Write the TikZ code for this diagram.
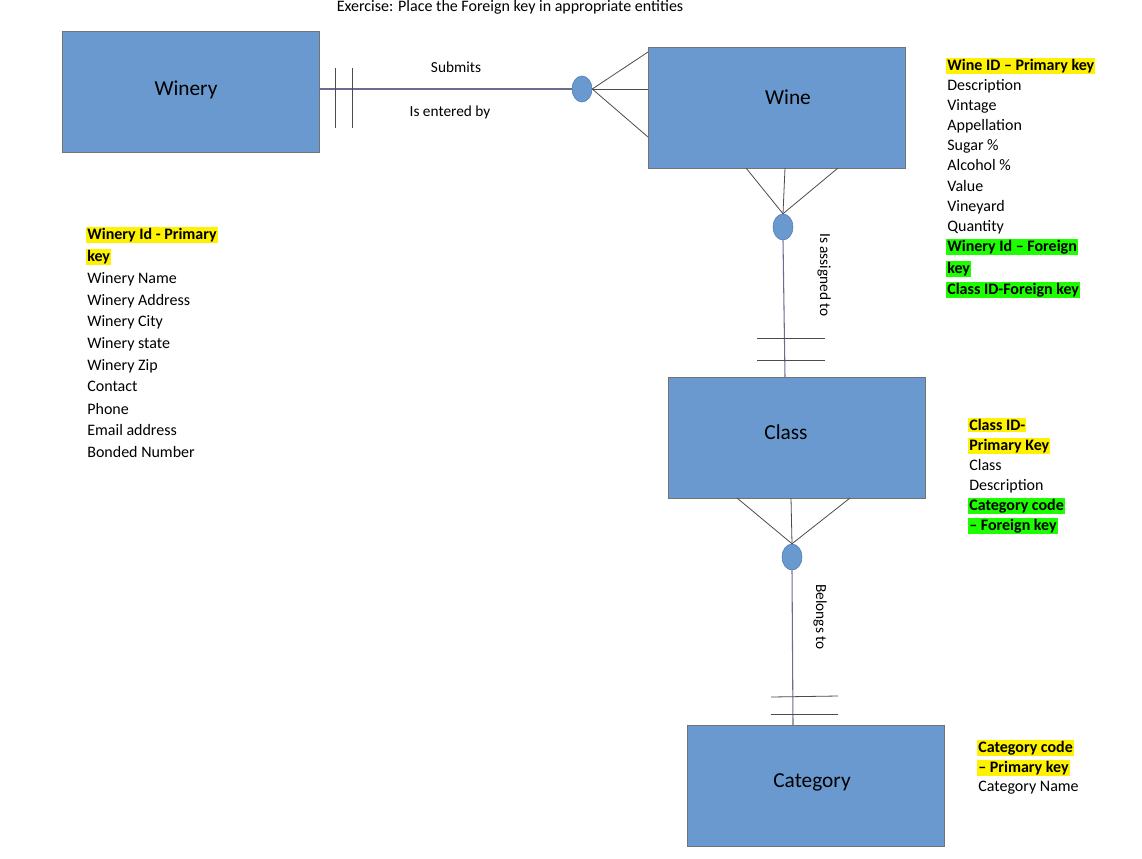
\documentclass[tikz,border=0pt]{standalone}
\usepackage{fontspec}
\setmainfont{Carlito}
\usetikzlibrary{shapes.geometric}
\begin{document}
\begin{tikzpicture}[x=0.75pt,y=-0.75pt,
  ent/.style={draw=black!55,fill=ebl,minimum width=257*0.75pt,minimum height=121*0.75pt},
  etx/.style={font=\fontsize{16}{19}\selectfont,inner sep=0pt},
  ell/.style={ellipse,draw=ebd,fill=ebl,minimum width=20*0.75pt,minimum height=26*0.75pt,inner sep=0pt},
  ln/.style={draw=black!70,line width=0.6pt},
  rl/.style={draw=gray!85!blue,line width=0.8pt},
  lbl/.style={font=\fontsize{11.5}{13}\selectfont,inner sep=0pt},
  it/.style={anchor=north west,font=\fontsize{12}{14}\selectfont,inner sep=0.8pt},
  yb/.style={it,fill=yellow,font=\fontsize{12}{14}\selectfont\bfseries},
  gb/.style={it,fill=green!85!lime,font=\fontsize{12}{14}\selectfont\bfseries}]
\definecolor{ebl}{HTML}{6A99CF}
\definecolor{ebd}{HTML}{4A7AB0}
\useasboundingbox (0,0) rectangle (1142,858);
\clip (0,0) rectangle (1142,858);
\fill[white] (0,0) rectangle (1142,858);
\node[lbl,font=\fontsize{12}{14}\selectfont] (title) at (510,7) {Exercise: Place the Foreign key in appropriate entities};
\node[ent] (winery) at (190.5,92) {};
\node[ent] (wine) at (777,107.5) {};
\node[ent] (class) at (797,437.5) {};
\node[ent] (cat) at (816,786) {};
\node[etx] (t1) at (186,90) {Winery};
\node[etx] (t2) at (788,97) {Wine};
\node[etx] (t3) at (786,432) {Class};
\node[etx] (t4) at (812,782) {Category};
\node[ell] (e1) at (582,89) {};
\node[ell] (e2) at (783,227) {};
\node[ell] (e3) at (792,557) {};
% winery-wine
\coordinate (wr) at (319,89);
\draw[rl] (wr) -- (e1.west);
\coordinate (b1a) at (335,68); \coordinate (b1b) at (335,128);
\coordinate (b2a) at (352,68); \coordinate (b2b) at (352,128);
\draw[ln] (b1a) -- (b1b); \draw[ln] (b2a) -- (b2b);
\coordinate (w1) at (648,52); \coordinate (w2) at (648,137); \coordinate (w3) at (648,89);
\draw[ln] (e1.east) -- (w1); \draw[ln] (e1.east) -- (w2); \draw[ln] (e1.east) -- (w3);
\node[lbl] (sub) at (456,67) {Submits};
\node[lbl] (ieb) at (450,112) {Is entered by};
% wine-class
\coordinate (c1) at (746,168); \coordinate (c2) at (785,168); \coordinate (c3) at (838,168);
\draw[ln] (c1) -- (e2.north); \draw[ln] (c2) -- (e2.north); \draw[ln] (c3) -- (e2.north);
\coordinate (ctop) at (785,377);
\draw[rl] (e2.south) -- (ctop);
\coordinate (d1a) at (757,338); \coordinate (d1b) at (825,338);
\coordinate (d2a) at (757,360); \coordinate (d2b) at (825,360);
\draw[ln] (d1a) -- (d1b); \draw[ln] (d2a) -- (d2b);
\node[lbl,rotate=-90] (iat) at (824,275) {Is assigned to};
% class-category
\coordinate (f1) at (737,498); \coordinate (f2) at (791,498); \coordinate (f3) at (850,498);
\draw[ln] (f1) -- (e3.north); \draw[ln] (f2) -- (e3.north); \draw[ln] (f3) -- (e3.north);
\coordinate (ktop) at (793,725);
\draw[rl] (e3.south) -- (ktop);
\coordinate (g1a) at (771,697); \coordinate (g1b) at (838,696);
\coordinate (g2a) at (771,714); \coordinate (g2b) at (838,714);
\draw[ln] (g1a) -- (g1b); \draw[ln] (g2a) -- (g2b);
\node[lbl,rotate=-90] (bt) at (820,617) {Belongs to};
% winery attributes
\node[yb] (a1) at (86,227) {Winery Id - Primary};
\node[yb] (a2) at (86,249) {key};
\foreach \t [count=\i] in {Winery Name,Winery Address,Winery City,Winery state,Winery Zip,Contact,Phone,Email address,Bonded Number}
  \node[it] (wa\i) at (86,249+21.8*\i) {\t};
% wine attributes
\node[yb] (b1) at (946,58) {Wine ID – Primary key};
\foreach \t [count=\i] in {Description,Vintage,Appellation,Sugar \%,Alcohol \%,Value,Vineyard,Quantity}
  \node[it] (wb\i) at (946,58+20.1*\i) {\t};
\node[gb] (b2) at (946,239) {Winery Id – Foreign};
\node[gb] (b3) at (946,261) {key};
\node[gb] (b4) at (946,282) {Class ID-Foreign key};
% class attributes
\node[yb] (c1t) at (968,418) {Class ID-};
\node[yb] (c2t) at (968,438) {Primary Key};
\node[it] (c3t) at (968,458) {Class};
\node[it] (c4t) at (968,478) {Description};
\node[gb] (c5t) at (968,498) {Category code};
\node[gb] (c6t) at (968,518) {– Foreign key};
% category attributes
\node[yb] (k1) at (977,740) {Category code};
\node[yb] (k2) at (977,760) {– Primary key};
\node[it] (k3) at (977,780) {Category Name};
\end{tikzpicture}
\end{document}
